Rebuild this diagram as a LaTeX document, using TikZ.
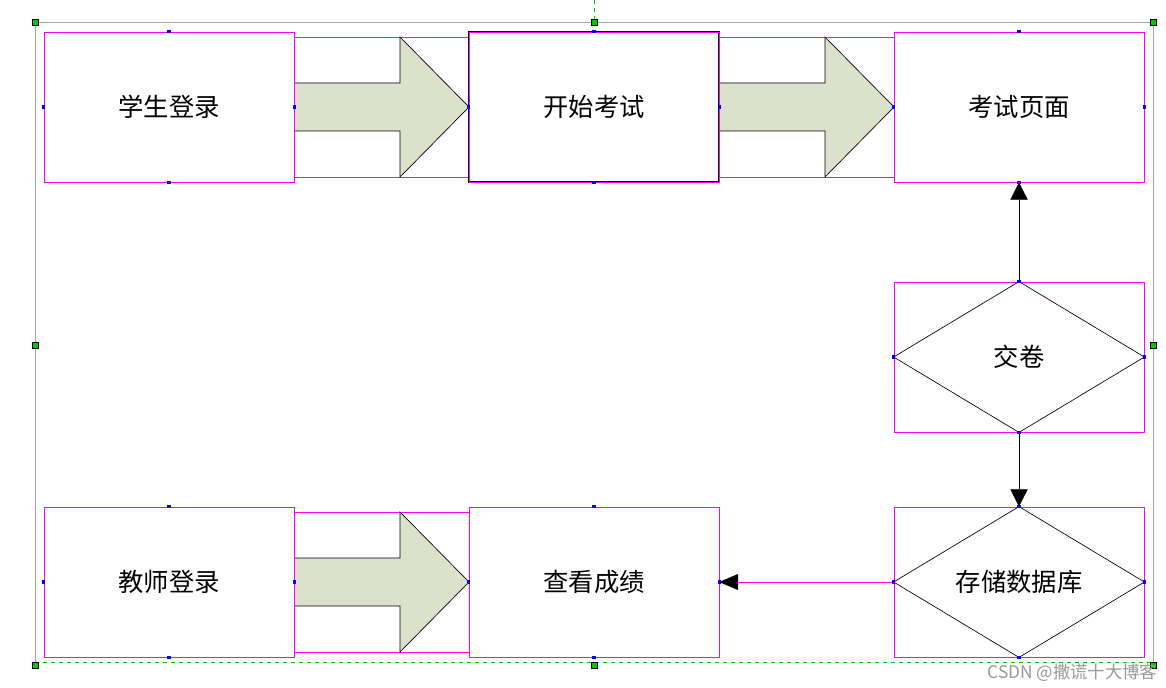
\documentclass[tikz,border=0pt]{standalone}
\usepackage{fontspec}
\newfontfamily\cjk{Noto Sans CJK SC}
\usetikzlibrary{arrows.meta}
\definecolor{mag}{RGB}{255,0,255}
\definecolor{arr}{RGB}{220,225,204}
\definecolor{hg}{RGB}{0,200,0}
\tikzset{
 bx/.style={draw=mag,line width=0.6pt,minimum width=187.5pt,minimum height=112.5pt,inner sep=0pt,font=\cjk\fontsize{19}{19}\selectfont},
 hd/.style={draw=black,fill=hg,minimum size=4.5pt,inner sep=0pt},
 mk/.style={fill=blue,minimum size=2.5pt,inner sep=0pt},
 con/.style={line width=0.5pt,-{Triangle[length=13pt,width=13pt]}},
}
\begin{document}
\begin{tikzpicture}[x=0.75pt,y=-0.75pt]
\useasboundingbox (0,0) rectangle (1166,688);
\fill[white] (0,0) rectangle (1166,688);
% selection frame
\draw[gray!70,line width=0.4pt] (35,22) -- (1153,22) -- (1153,665);
\draw[gray!70,line width=0.4pt] (35,22) -- (35,665);
\draw[hg,dashed,line width=0.4pt] (35,662) -- (1153,662);
\draw[hg,dashed,line width=0.4pt] (594,0) -- (594,22);
% block arrows
\foreach \y in {107,582}{
 \draw[mag,line width=0.5pt] (294,\y-70) rectangle (469,\y+70);
 \draw[fill=arr,line width=0.5pt] (294,\y-24) -- (400,\y-24) -- (400,\y-70) -- (469,\y) -- (400,\y+70) -- (400,\y+24) -- (294,\y+24) -- cycle;
}
\draw[mag,line width=0.5pt] (719,37) rectangle (894,177);
\draw[fill=arr,line width=0.5pt] (719,83) -- (825,83) -- (825,37) -- (894,107) -- (825,177) -- (825,131) -- (719,131) -- cycle;
% boxes
\node[bx,fill=white] (a) at (169,107) {学生登录};
\node[bx,fill=white,draw=black,line width=1.4pt] (b) at (594,107) {};
\node[bx] (b2) at (594,107) {开始考试};
\node[bx,fill=white] (c) at (1019,107) {考试页面};
\node[bx] (d) at (1019,357) {};
\node[bx] (e) at (1019,582) {};
\node[bx,fill=white] (f) at (169,582) {教师登录};
\node[bx,fill=white] (g) at (594,582) {查看成绩};
\draw[line width=0.5pt] (d.north) -- (d.east) -- (d.south) -- (d.west) -- cycle;
\draw[line width=0.5pt] (e.north) -- (e.east) -- (e.south) -- (e.west) -- cycle;
\node[font=\cjk\fontsize{19}{19}\selectfont] at (d) {交卷};
\node[font=\cjk\fontsize{19}{19}\selectfont] at (e) {存储数据库};
% connectors
\draw[con] (d.north) -- (c.south);
\draw[con] (d.south) -- (e.north);
\draw[mag,line width=0.6pt] (e.west) -- (735,582);
\fill[black] (719,582) -- (738,574) -- (738,590) -- cycle;
% markers
\foreach \n in {a,b2,c,d,e,f,g}{
 \foreach \s in {north,south,east,west}{\node[mk] at (\n.\s) {};}
}
% handles
\foreach \p in {(35,22),(594,22),(1153,22),(35,345),(1153,345),(35,665),(594,665),(1153,665)}{
 \node[hd] at \p {};
}
\node[anchor=south east,text=gray!80,font=\cjk\fontsize{13}{13}\selectfont,inner sep=2pt] at (1160,684) {CSDN @撒谎十大博客};
\end{tikzpicture}
\end{document}
